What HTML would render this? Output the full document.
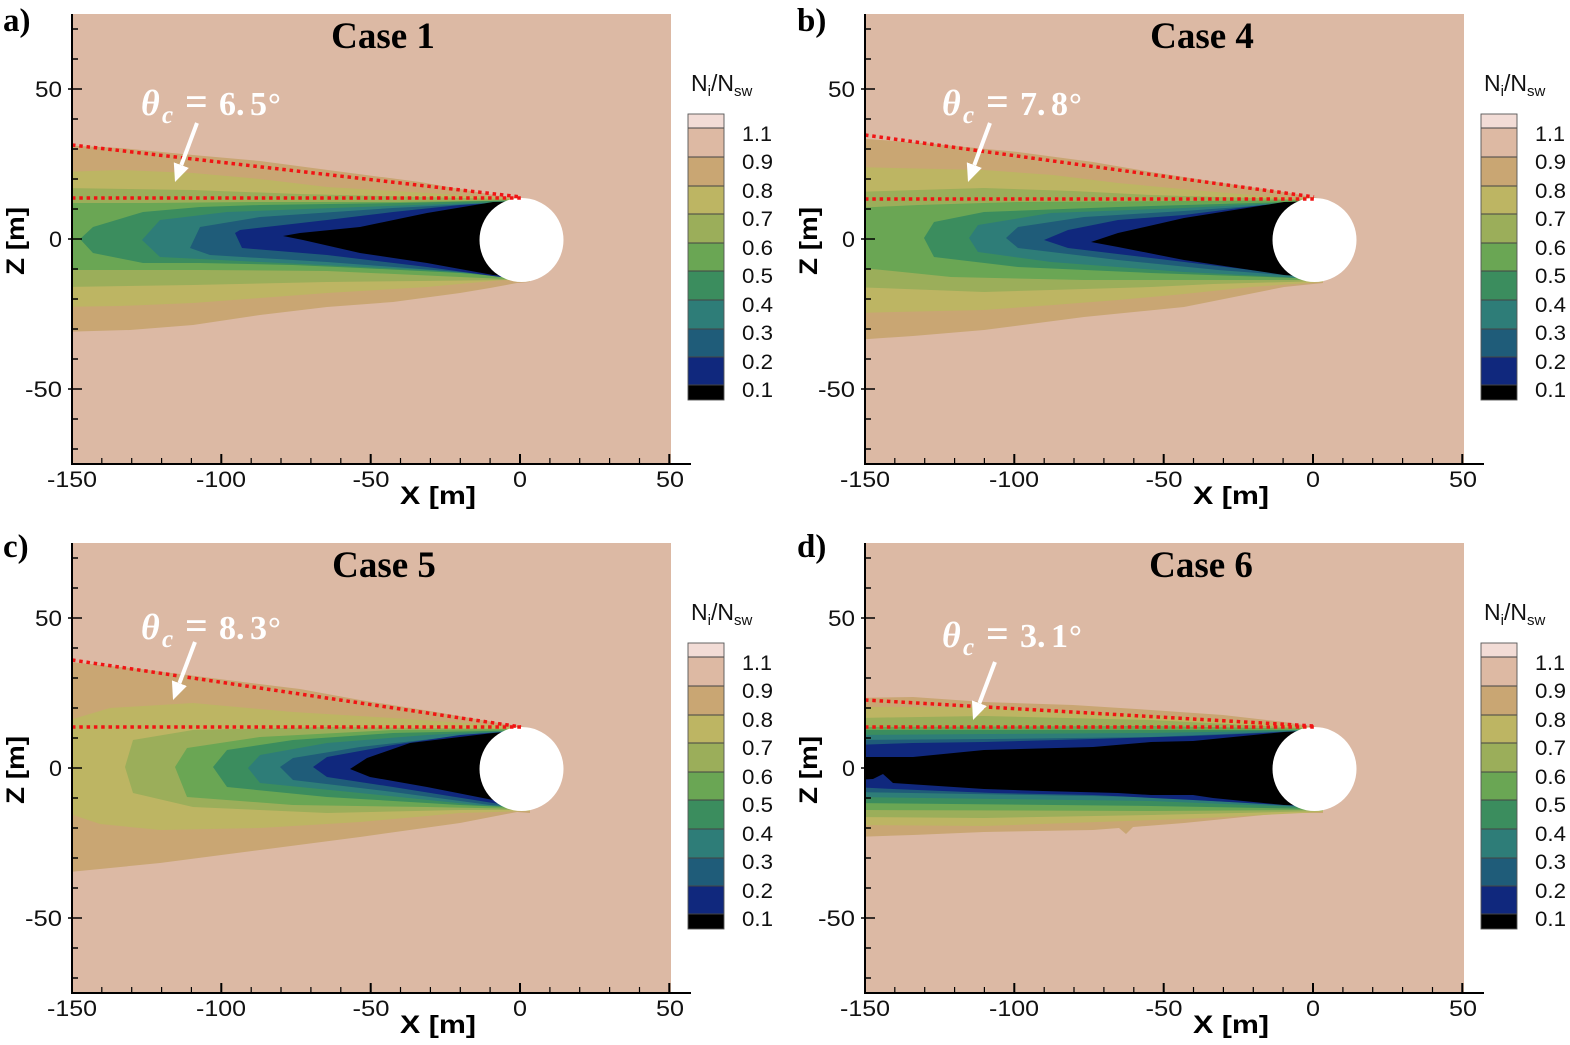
<!DOCTYPE html>
<html><head><meta charset="utf-8">
<style>
html,body{margin:0;padding:0;background:#fff;}
svg{display:block;}
.tk{font-family:"Liberation Sans",Arial,sans-serif;font-size:22px;fill:#111;}
.cb{font-family:"Liberation Sans",Arial,sans-serif;font-size:21px;fill:#111;}
.cbt{font-family:"Liberation Sans",Arial,sans-serif;font-size:23px;fill:#111;}
.ax{font-family:"Liberation Sans",Arial,sans-serif;font-size:25px;font-weight:bold;fill:#000;}
.ttl{font-family:"Liberation Serif","Times New Roman",serif;font-size:37px;font-weight:bold;fill:#000;}
.lbl{font-family:"Liberation Serif","Times New Roman",serif;font-size:33px;font-weight:bold;fill:#000;}
.th{font-family:"Liberation Serif","Times New Roman",serif;font-weight:bold;fill:#fff;}
</style></head>
<body>
<svg width="1570" height="1045" viewBox="0 0 1570 1045" xmlns="http://www.w3.org/2000/svg">
<defs>
<clipPath id="cp"><rect x="72" y="14" width="599" height="450"/></clipPath>
<marker id="ah" markerUnits="userSpaceOnUse" markerWidth="18" markerHeight="16" refX="0" refY="8" orient="auto" viewBox="0 0 18 16"><path d="M0,0 L18,8 L0,16 z" fill="#fff"/></marker>
<g id="frame">
  <path d="M72,14V464M71,464H691" stroke="#000" stroke-width="2" fill="none"/>
  <path d="M68,89H82M68,239H82M68,389H82M72,29H78M72,59H78M72,119H78M72,149H78M72,179H78M72,209H78M72,269H78M72,299H78M72,329H78M72,359H78M72,419H78M72,449H78" stroke="#000" stroke-width="1.6"/>
  <path d="M72,464V454M221.3,464V454M370.7,464V454M520,464V454M669.3,464V454" stroke="#000" stroke-width="2"/>
  <path d="M101.8,464V458M131.7,464V458M161.6,464V458M191.4,464V458M251.2,464V458M281,464V458M310.9,464V458M340.8,464V458M400.5,464V458M430.4,464V458M460.3,464V458M490.1,464V458M549.9,464V458M579.7,464V458M609.6,464V458M639.5,464V458" stroke="#000" stroke-width="1.2"/>
  <rect x="688" y="114" width="36" height="14" fill="#f2dcd6"/>
  <rect x="688" y="128" width="36" height="29" fill="#ddb9a3"/>
  <rect x="688" y="157" width="36" height="29" fill="#c9a673"/>
  <rect x="688" y="186" width="36" height="28" fill="#bdb563"/>
  <rect x="688" y="214" width="36" height="29" fill="#9bae5a"/>
  <rect x="688" y="243" width="36" height="28" fill="#6aa654"/>
  <rect x="688" y="271" width="36" height="29" fill="#3b8d5e"/>
  <rect x="688" y="300" width="36" height="29" fill="#2e7d78"/>
  <rect x="688" y="329" width="36" height="28" fill="#1f5c79"/>
  <rect x="688" y="357" width="36" height="28" fill="#10287d"/>
  <rect x="688" y="385" width="36" height="15" fill="#000"/>
  <path d="M688,128H724M688,157H724M688,186H724M688,214H724M688,243H724M688,271H724M688,300H724M688,329H724M688,357H724M688,385H724" stroke="#444" stroke-width="0.9"/>
  <rect x="688" y="114" width="36" height="286" fill="none" stroke="#555" stroke-width="0.9"/>
</g>
</defs>

<!-- ========== PANEL A ========== -->
<g>
<rect x="72" y="14" width="599" height="450" fill="#dcb9a4"/>
<g clip-path="url(#cp)">
<polygon fill="#c9a673" points="60,145 120,148 193,155 260,161 343,172 420,182 477,192 505,197 530,200 530,282 517,283 490,288 460,293 393,302 327,307 260,315 193,325 130,330 60,332"/>
<polygon fill="#bdb563" points="60,172 120,170 193,173 260,179 327,187 427,193 505,198 530,200 530,281 503,280 427,287 327,293 260,298 193,303 120,306 60,307"/>
<polygon fill="#9bae5a" points="60,188 193,190 300,194 420,197 505,199 530,200 530,280 510,280 420,281 327,282 193,285 60,287"/>
<polygon fill="#6aa654" points="60,203 150,203 260,202 400,202 530,200 530,280 460,277 327,271 200,270 60,270"/>
<polygon fill="#3b8d5e" points="80,239 93,227 143,212 200,207 260,205 400,203 530,200 530,279 460,273 360,268 293,265 200,263 143,263 93,253"/>
<polygon fill="#2e7d78" points="142,240 160,220 227,212 360,207 530,201 530,278 427,270 260,262 160,257"/>
<polygon fill="#1f5c79" points="190,248 200,227 260,217 393,208 530,201 530,278 460,272 327,262 210,255"/>
<polygon fill="#10287d" points="235,233 240,230 327,220 393,212 460,205 530,201 530,278 500,277 427,267 327,255 242,248"/>
<polygon fill="#000" points="283,236 300,233 360,227 427,213 493,202 530,201 530,278 493,275 427,263 360,253 303,240"/>
<circle cx="521.5" cy="240" r="42" fill="#fff"/>
<line x1="72" y1="145" x2="521" y2="197" stroke="#f01414" stroke-width="3.5" stroke-dasharray="3.5 3.8"/>
<line x1="72" y1="198" x2="521" y2="198" stroke="#f01414" stroke-width="3.5" stroke-dasharray="3.5 3.8"/>
</g>
<use href="#frame"/>
<line x1="197" y1="123" x2="181.3" y2="165.1" stroke="#fff" stroke-width="4" marker-end="url(#ah)"/>
<text class="th"><tspan x="141" y="115" font-size="36" font-style="italic">θ</tspan><tspan x="162" y="123" font-size="25" font-style="italic">c</tspan><tspan x="185" y="115" font-size="40">=</tspan><tspan x="219" y="115" font-size="34">6</tspan><tspan x="236" y="115" font-size="34">.</tspan><tspan x="250" y="115" font-size="34">5</tspan><tspan x="268" y="115" font-size="32">°</tspan></text>
<text class="ttl" x="383" y="48" text-anchor="middle">Case 1</text>
<text class="lbl" x="3" y="31">a)</text>
<text class="tk" x="62" y="97" text-anchor="end" textLength="27" lengthAdjust="spacingAndGlyphs">50</text>
<text class="tk" x="62" y="247" text-anchor="end" textLength="13" lengthAdjust="spacingAndGlyphs">0</text>
<text class="tk" x="62" y="397" text-anchor="end" textLength="37" lengthAdjust="spacingAndGlyphs">-50</text>
<text class="tk" x="72" y="487" text-anchor="middle" textLength="50" lengthAdjust="spacingAndGlyphs">-150</text>
<text class="tk" x="221" y="487" text-anchor="middle" textLength="50" lengthAdjust="spacingAndGlyphs">-100</text>
<text class="tk" x="371" y="487" text-anchor="middle" textLength="37" lengthAdjust="spacingAndGlyphs">-50</text>
<text class="tk" x="520" y="487" text-anchor="middle" textLength="14" lengthAdjust="spacingAndGlyphs">0</text>
<text class="tk" x="670" y="487" text-anchor="middle" textLength="28" lengthAdjust="spacingAndGlyphs">50</text>
<text class="ax" x="438" y="504" text-anchor="middle" textLength="76" lengthAdjust="spacingAndGlyphs">X [m]</text>
<text class="ax" transform="translate(24,241) rotate(-90)" x="0" y="0" text-anchor="middle" textLength="68" lengthAdjust="spacingAndGlyphs">Z [m]</text>
<text class="cbt" x="691" y="91"><tspan>N</tspan><tspan font-size="15" dy="5">i</tspan><tspan dy="-5">/N</tspan><tspan font-size="15" dy="5">sw</tspan></text>
<text class="cb" x="742" y="141" textLength="30" lengthAdjust="spacingAndGlyphs">1.1</text>
<text class="cb" x="742" y="169" textLength="31" lengthAdjust="spacingAndGlyphs">0.9</text>
<text class="cb" x="742" y="198" textLength="31" lengthAdjust="spacingAndGlyphs">0.8</text>
<text class="cb" x="742" y="226" textLength="31" lengthAdjust="spacingAndGlyphs">0.7</text>
<text class="cb" x="742" y="255" textLength="31" lengthAdjust="spacingAndGlyphs">0.6</text>
<text class="cb" x="742" y="283" textLength="31" lengthAdjust="spacingAndGlyphs">0.5</text>
<text class="cb" x="742" y="312" textLength="31" lengthAdjust="spacingAndGlyphs">0.4</text>
<text class="cb" x="742" y="340" textLength="31" lengthAdjust="spacingAndGlyphs">0.3</text>
<text class="cb" x="742" y="369" textLength="31" lengthAdjust="spacingAndGlyphs">0.2</text>
<text class="cb" x="742" y="397" textLength="31" lengthAdjust="spacingAndGlyphs">0.1</text>
</g>

<!-- ========== PANEL B ========== -->
<g transform="translate(793,0)">
<rect x="72" y="14" width="599" height="450" fill="#dcb9a4"/>
<g clip-path="url(#cp)">
<polygon fill="#c9a673" points="60,138 130,143 225,152 300,162 358,172 430,183 491,192 530,199 530,283 491,287 391,307 291,317 191,330 120,336 60,340"/>
<polygon fill="#bdb563" points="60,167 191,170 260,175 325,183 400,190 458,195 530,200 530,282 458,287 391,294 325,300 260,305 191,310 60,313"/>
<polygon fill="#9bae5a" points="60,192 191,188 280,191 358,195 530,200 530,281 420,284 358,287 191,292 60,287"/>
<polygon fill="#6aa654" points="60,208 125,205 225,202 400,201 530,200 530,280 420,280 291,280 158,277 60,267"/>
<polygon fill="#3b8d5e" points="131,238 141,222 191,212 325,207 530,201 530,279 358,273 225,267 141,257"/>
<polygon fill="#2e7d78" points="176,238 185,225 258,213 391,208 530,201 530,279 391,272 258,262 185,252"/>
<polygon fill="#1f5c79" points="213,238 225,227 291,217 391,211 530,201 530,278 425,270 325,260 225,248"/>
<polygon fill="#10287d" points="251,240 275,230 325,220 391,215 470,205 530,201 530,278 458,270 358,258 275,248"/>
<polygon fill="#000" points="298,242 325,233 391,218 491,202 530,201 530,278 491,275 391,260 325,247"/>
<circle cx="521.5" cy="240" r="42" fill="#fff"/>
<line x1="72" y1="135" x2="521" y2="197" stroke="#f01414" stroke-width="3.5" stroke-dasharray="3.5 3.8"/>
<line x1="72" y1="199" x2="521" y2="199" stroke="#f01414" stroke-width="3.5" stroke-dasharray="3.5 3.8"/>
</g>
<use href="#frame"/>
<line x1="197" y1="123" x2="181.3" y2="165.1" stroke="#fff" stroke-width="4" marker-end="url(#ah)"/>
<text class="th"><tspan x="149" y="115" font-size="36" font-style="italic">θ</tspan><tspan x="170" y="123" font-size="25" font-style="italic">c</tspan><tspan x="193" y="115" font-size="40">=</tspan><tspan x="227" y="115" font-size="34">7</tspan><tspan x="244" y="115" font-size="34">.</tspan><tspan x="258" y="115" font-size="34">8</tspan><tspan x="276" y="115" font-size="32">°</tspan></text>
<text class="ttl" x="409" y="48" text-anchor="middle">Case 4</text>
<text class="lbl" x="4" y="31">b)</text>
<text class="tk" x="62" y="97" text-anchor="end" textLength="27" lengthAdjust="spacingAndGlyphs">50</text>
<text class="tk" x="62" y="247" text-anchor="end" textLength="13" lengthAdjust="spacingAndGlyphs">0</text>
<text class="tk" x="62" y="397" text-anchor="end" textLength="37" lengthAdjust="spacingAndGlyphs">-50</text>
<text class="tk" x="72" y="487" text-anchor="middle" textLength="50" lengthAdjust="spacingAndGlyphs">-150</text>
<text class="tk" x="221" y="487" text-anchor="middle" textLength="50" lengthAdjust="spacingAndGlyphs">-100</text>
<text class="tk" x="371" y="487" text-anchor="middle" textLength="37" lengthAdjust="spacingAndGlyphs">-50</text>
<text class="tk" x="520" y="487" text-anchor="middle" textLength="14" lengthAdjust="spacingAndGlyphs">0</text>
<text class="tk" x="670" y="487" text-anchor="middle" textLength="28" lengthAdjust="spacingAndGlyphs">50</text>
<text class="ax" x="438" y="504" text-anchor="middle" textLength="76" lengthAdjust="spacingAndGlyphs">X [m]</text>
<text class="ax" transform="translate(24,241) rotate(-90)" x="0" y="0" text-anchor="middle" textLength="68" lengthAdjust="spacingAndGlyphs">Z [m]</text>
<text class="cbt" x="691" y="91"><tspan>N</tspan><tspan font-size="15" dy="5">i</tspan><tspan dy="-5">/N</tspan><tspan font-size="15" dy="5">sw</tspan></text>
<text class="cb" x="742" y="141" textLength="30" lengthAdjust="spacingAndGlyphs">1.1</text>
<text class="cb" x="742" y="169" textLength="31" lengthAdjust="spacingAndGlyphs">0.9</text>
<text class="cb" x="742" y="198" textLength="31" lengthAdjust="spacingAndGlyphs">0.8</text>
<text class="cb" x="742" y="226" textLength="31" lengthAdjust="spacingAndGlyphs">0.7</text>
<text class="cb" x="742" y="255" textLength="31" lengthAdjust="spacingAndGlyphs">0.6</text>
<text class="cb" x="742" y="283" textLength="31" lengthAdjust="spacingAndGlyphs">0.5</text>
<text class="cb" x="742" y="312" textLength="31" lengthAdjust="spacingAndGlyphs">0.4</text>
<text class="cb" x="742" y="340" textLength="31" lengthAdjust="spacingAndGlyphs">0.3</text>
<text class="cb" x="742" y="369" textLength="31" lengthAdjust="spacingAndGlyphs">0.2</text>
<text class="cb" x="742" y="397" textLength="31" lengthAdjust="spacingAndGlyphs">0.1</text>
</g>

<!-- ========== PANEL C ========== -->
<g transform="translate(0,529)">
<rect x="72" y="14" width="599" height="450" fill="#dcb9a4"/>
<g clip-path="url(#cp)">
<polygon fill="#c9a673" points="60,132 140,140 227,151 300,160 360,171 430,182 493,193 530,199 530,284 517,283 460,294 360,308 260,321 160,334 100,340 60,344"/>
<polygon fill="#bdb563" points="60,190 73,190 110,179 193,174 293,183 393,189 505,197 530,200 530,282 460,284 360,293 260,299 160,301 100,295 73,286 60,286"/>
<polygon fill="#9bae5a" points="125,238 133,211 193,201 327,198 530,200 530,281 460,281 327,284 193,278 133,264"/>
<polygon fill="#6aa654" points="175,238 187,219 260,208 393,201 530,200 530,280 427,278 293,276 187,268"/>
<polygon fill="#3b8d5e" points="213,238 227,221 293,211 393,204 530,201 530,279 460,276 327,268 227,258"/>
<polygon fill="#2e7d78" points="248,239 260,226 327,214 427,206 530,201 530,279 477,276 360,264 260,254"/>
<polygon fill="#1f5c79" points="280,238 293,229 360,218 450,208 530,201 530,278 490,276 393,263 293,251"/>
<polygon fill="#10287d" points="313,238 327,228 393,216 460,206 530,201 530,278 493,274 393,258 327,248"/>
<polygon fill="#000" points="350,240 367,229 410,214 493,204 530,201 530,278 493,271 427,258 370,248"/>
<circle cx="521.5" cy="240" r="42" fill="#fff"/>
<line x1="72" y1="131" x2="521" y2="198" stroke="#f01414" stroke-width="3.5" stroke-dasharray="3.5 3.8"/>
<line x1="72" y1="198" x2="521" y2="198" stroke="#f01414" stroke-width="3.5" stroke-dasharray="3.5 3.8"/>
</g>
<use href="#frame"/>
<line x1="195" y1="113" x2="179.4" y2="154.2" stroke="#fff" stroke-width="4" marker-end="url(#ah)"/>
<text class="th"><tspan x="141" y="110" font-size="36" font-style="italic">θ</tspan><tspan x="162" y="118" font-size="25" font-style="italic">c</tspan><tspan x="185" y="110" font-size="40">=</tspan><tspan x="219" y="110" font-size="34">8</tspan><tspan x="236" y="110" font-size="34">.</tspan><tspan x="250" y="110" font-size="34">3</tspan><tspan x="268" y="110" font-size="32">°</tspan></text>
<text class="ttl" x="384" y="48" text-anchor="middle">Case 5</text>
<text class="lbl" x="3" y="28">c)</text>
<text class="tk" x="62" y="97" text-anchor="end" textLength="27" lengthAdjust="spacingAndGlyphs">50</text>
<text class="tk" x="62" y="247" text-anchor="end" textLength="13" lengthAdjust="spacingAndGlyphs">0</text>
<text class="tk" x="62" y="397" text-anchor="end" textLength="37" lengthAdjust="spacingAndGlyphs">-50</text>
<text class="tk" x="72" y="487" text-anchor="middle" textLength="50" lengthAdjust="spacingAndGlyphs">-150</text>
<text class="tk" x="221" y="487" text-anchor="middle" textLength="50" lengthAdjust="spacingAndGlyphs">-100</text>
<text class="tk" x="371" y="487" text-anchor="middle" textLength="37" lengthAdjust="spacingAndGlyphs">-50</text>
<text class="tk" x="520" y="487" text-anchor="middle" textLength="14" lengthAdjust="spacingAndGlyphs">0</text>
<text class="tk" x="670" y="487" text-anchor="middle" textLength="28" lengthAdjust="spacingAndGlyphs">50</text>
<text class="ax" x="438" y="504" text-anchor="middle" textLength="76" lengthAdjust="spacingAndGlyphs">X [m]</text>
<text class="ax" transform="translate(24,241) rotate(-90)" x="0" y="0" text-anchor="middle" textLength="68" lengthAdjust="spacingAndGlyphs">Z [m]</text>
<text class="cbt" x="691" y="91"><tspan>N</tspan><tspan font-size="15" dy="5">i</tspan><tspan dy="-5">/N</tspan><tspan font-size="15" dy="5">sw</tspan></text>
<text class="cb" x="742" y="141" textLength="30" lengthAdjust="spacingAndGlyphs">1.1</text>
<text class="cb" x="742" y="169" textLength="31" lengthAdjust="spacingAndGlyphs">0.9</text>
<text class="cb" x="742" y="198" textLength="31" lengthAdjust="spacingAndGlyphs">0.8</text>
<text class="cb" x="742" y="226" textLength="31" lengthAdjust="spacingAndGlyphs">0.7</text>
<text class="cb" x="742" y="255" textLength="31" lengthAdjust="spacingAndGlyphs">0.6</text>
<text class="cb" x="742" y="283" textLength="31" lengthAdjust="spacingAndGlyphs">0.5</text>
<text class="cb" x="742" y="312" textLength="31" lengthAdjust="spacingAndGlyphs">0.4</text>
<text class="cb" x="742" y="340" textLength="31" lengthAdjust="spacingAndGlyphs">0.3</text>
<text class="cb" x="742" y="369" textLength="31" lengthAdjust="spacingAndGlyphs">0.2</text>
<text class="cb" x="742" y="397" textLength="31" lengthAdjust="spacingAndGlyphs">0.1</text>
</g>

<!-- ========== PANEL D ========== -->
<g transform="translate(793,529)">
<rect x="72" y="14" width="599" height="450" fill="#dcb9a4"/>
<g clip-path="url(#cp)">
<polygon fill="#c9a673" points="60,169 120,168 191,173 280,176 358,181 430,186 491,193 530,199 530,284 491,284 391,294 340,298 333,305 326,299 300,301 191,303 120,306 60,308"/>
<polygon fill="#bdb563" points="60,178 191,178 358,186 491,195 530,200 530,283 391,290 191,297 60,296"/>
<polygon fill="#9bae5a" points="60,189 191,187 358,191 530,200 530,282 358,286 191,289 60,288"/>
<polygon fill="#6aa654" points="60,198 358,197 530,200 530,281 358,282 60,281"/>
<polygon fill="#3b8d5e" points="60,201 358,201 530,201 530,280 358,277 60,274"/>
<polygon fill="#2e7d78" points="60,206 200,205 358,204 530,201 530,279 358,272 60,268"/>
<polygon fill="#1f5c79" points="60,211 200,210 358,208 530,201 530,279 358,268 60,263"/>
<polygon fill="#10287d" points="60,216 120,214 191,213 300,210 400,207 470,204 530,201 530,278 400,271 300,266 200,264 100,260 60,258"/>
<polygon fill="#000" points="60,228 120,228 191,221 300,218 358,213 400,212 491,203 530,201 530,277 491,276 420,269 400,266 358,266 325,264 250,262 191,260 100,254 90,245 80,250 60,251"/>
<circle cx="521.5" cy="240" r="42" fill="#fff"/>
<line x1="72" y1="171" x2="521" y2="197" stroke="#f01414" stroke-width="3.5" stroke-dasharray="3.5 3.8"/>
<line x1="72" y1="198" x2="521" y2="198" stroke="#f01414" stroke-width="3.5" stroke-dasharray="3.5 3.8"/>
</g>
<use href="#frame"/>
<line x1="202" y1="133" x2="186.4" y2="174.2" stroke="#fff" stroke-width="4" marker-end="url(#ah)"/>
<text class="th"><tspan x="149" y="118" font-size="36" font-style="italic">θ</tspan><tspan x="170" y="126" font-size="25" font-style="italic">c</tspan><tspan x="193" y="118" font-size="40">=</tspan><tspan x="227" y="118" font-size="34">3</tspan><tspan x="244" y="118" font-size="34">.</tspan><tspan x="258" y="118" font-size="34">1</tspan><tspan x="276" y="118" font-size="32">°</tspan></text>
<text class="ttl" x="408" y="48" text-anchor="middle">Case 6</text>
<text class="lbl" x="4" y="28">d)</text>
<text class="tk" x="62" y="97" text-anchor="end" textLength="27" lengthAdjust="spacingAndGlyphs">50</text>
<text class="tk" x="62" y="247" text-anchor="end" textLength="13" lengthAdjust="spacingAndGlyphs">0</text>
<text class="tk" x="62" y="397" text-anchor="end" textLength="37" lengthAdjust="spacingAndGlyphs">-50</text>
<text class="tk" x="72" y="487" text-anchor="middle" textLength="50" lengthAdjust="spacingAndGlyphs">-150</text>
<text class="tk" x="221" y="487" text-anchor="middle" textLength="50" lengthAdjust="spacingAndGlyphs">-100</text>
<text class="tk" x="371" y="487" text-anchor="middle" textLength="37" lengthAdjust="spacingAndGlyphs">-50</text>
<text class="tk" x="520" y="487" text-anchor="middle" textLength="14" lengthAdjust="spacingAndGlyphs">0</text>
<text class="tk" x="670" y="487" text-anchor="middle" textLength="28" lengthAdjust="spacingAndGlyphs">50</text>
<text class="ax" x="438" y="504" text-anchor="middle" textLength="76" lengthAdjust="spacingAndGlyphs">X [m]</text>
<text class="ax" transform="translate(24,241) rotate(-90)" x="0" y="0" text-anchor="middle" textLength="68" lengthAdjust="spacingAndGlyphs">Z [m]</text>
<text class="cbt" x="691" y="91"><tspan>N</tspan><tspan font-size="15" dy="5">i</tspan><tspan dy="-5">/N</tspan><tspan font-size="15" dy="5">sw</tspan></text>
<text class="cb" x="742" y="141" textLength="30" lengthAdjust="spacingAndGlyphs">1.1</text>
<text class="cb" x="742" y="169" textLength="31" lengthAdjust="spacingAndGlyphs">0.9</text>
<text class="cb" x="742" y="198" textLength="31" lengthAdjust="spacingAndGlyphs">0.8</text>
<text class="cb" x="742" y="226" textLength="31" lengthAdjust="spacingAndGlyphs">0.7</text>
<text class="cb" x="742" y="255" textLength="31" lengthAdjust="spacingAndGlyphs">0.6</text>
<text class="cb" x="742" y="283" textLength="31" lengthAdjust="spacingAndGlyphs">0.5</text>
<text class="cb" x="742" y="312" textLength="31" lengthAdjust="spacingAndGlyphs">0.4</text>
<text class="cb" x="742" y="340" textLength="31" lengthAdjust="spacingAndGlyphs">0.3</text>
<text class="cb" x="742" y="369" textLength="31" lengthAdjust="spacingAndGlyphs">0.2</text>
<text class="cb" x="742" y="397" textLength="31" lengthAdjust="spacingAndGlyphs">0.1</text>
</g>
</svg>
</body></html>
